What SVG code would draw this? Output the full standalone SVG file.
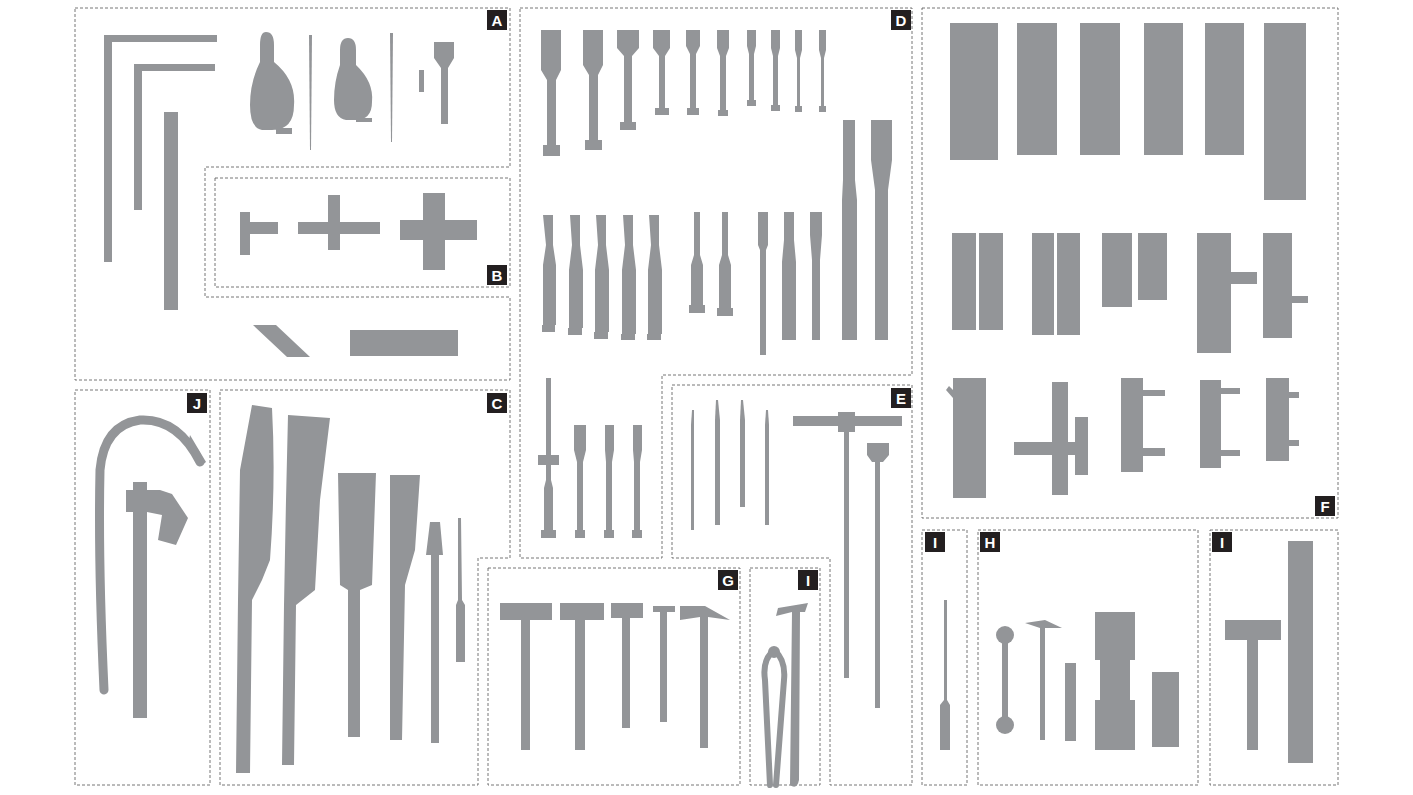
<svg xmlns="http://www.w3.org/2000/svg" width="1413" height="795" viewBox="0 0 1413 795">
<style>
.b{fill:none;stroke:#666;stroke-width:0.9;stroke-dasharray:3 2}
.t{fill:#939598}
.ts{fill:none;stroke:#939598;stroke-linecap:round}
.lb{fill:#231f20}
.lt{fill:#fff;font-family:"Liberation Sans",Arial,sans-serif;font-weight:bold;font-size:15px;text-anchor:middle}
</style>
<rect width="1413" height="795" fill="#fff"/>
<g id="boxes">
<path class="b" d="M75 8H510V167H205V297H510V380H75Z"/>
<rect class="b" x="215" y="178" width="295" height="109"/>
<path class="b" d="M520 8H912V375H662V558H520Z"/>
<path class="b" d="M672 385H912V785H830V558H672Z"/>
<rect class="b" x="75" y="390" width="135" height="395"/>
<path class="b" d="M220 390H510V558H478V785H220Z"/>
<rect class="b" x="488" y="568" width="252" height="217"/>
<rect class="b" x="750" y="568" width="70" height="217"/>
<rect class="b" x="922" y="8" width="416" height="510"/>
<rect class="b" x="922" y="530" width="45" height="255"/>
<rect class="b" x="978" y="530" width="220" height="255"/>
<rect class="b" x="1210" y="530" width="128" height="255"/>
</g>
<g id="labels">
<rect class="lb" x="487" y="10" width="20" height="20"/><text class="lt" x="497" y="26">A</text>
<rect class="lb" x="487" y="265" width="20" height="20"/><text class="lt" x="497" y="281">B</text>
<rect class="lb" x="891" y="10" width="20" height="20"/><text class="lt" x="901" y="26">D</text>
<rect class="lb" x="891" y="388" width="20" height="20"/><text class="lt" x="901" y="404">E</text>
<rect class="lb" x="187" y="393" width="20" height="20"/><text class="lt" x="197" y="409">J</text>
<rect class="lb" x="487" y="393" width="20" height="20"/><text class="lt" x="497" y="409">C</text>
<rect class="lb" x="718" y="570" width="20" height="20"/><text class="lt" x="728" y="586">G</text>
<rect class="lb" x="798" y="570" width="20" height="20"/><text class="lt" x="808" y="586">I</text>
<rect class="lb" x="1315" y="496" width="20" height="20"/><text class="lt" x="1325" y="512">F</text>
<rect class="lb" x="925" y="532" width="20" height="20"/><text class="lt" x="935" y="548">I</text>
<rect class="lb" x="980" y="532" width="20" height="20"/><text class="lt" x="990" y="548">H</text>
<rect class="lb" x="1212" y="532" width="20" height="20"/><text class="lt" x="1222" y="548">I</text>
</g>
<g id="A">
<path class="t" d="M104 35H217V42H112V262H104Z"/>
<path class="t" d="M134 64H215V71H142V210H134Z"/>
<rect class="t" x="164" y="112" width="14" height="198"/>
<path class="t" d="M266 32Q274 32 274 45V62Q296 80 294 105Q294 130 272 130H262Q250 128 250 105Q250 82 260 62V45Q260 32 266 32Z M276 128H292V134H276Z"/>
<path class="t" d="M348 38Q356 38 356 50V65Q374 82 372 102Q372 120 355 120H346Q334 118 334 100Q334 82 340 65V50Q340 38 348 38Z M356 118H372V122H356Z"/>
<path class="t" d="M309 35L312 35L311 150L310 150Z"/>
<path class="t" d="M390 33L393 33L392 142L391 142Z"/>
<path class="t" d="M434 42H454V58L448 68V124H441V68L434 58Z"/>
<rect class="t" x="419" y="70" width="5" height="22"/>
<path class="t" d="M253 325H276L310 357H287Z"/>
<rect class="t" x="350" y="330" width="108" height="26"/>
</g>
<g id="B">
<path class="t" d="M240 212H250V222H278V234H250V255H240Z"/>
<path class="t" d="M328 195H340V222H380V234H340V250H328V234H298V222H328Z"/>
<path class="t" d="M423 193H445V220H477V240H445V270H423V240H400V220H423Z"/>
</g>
<g id="D">
<path class="t" d="M541 30H561V70L556 80V145H560V156H543V145H547V80L541 70Z"/>
<path class="t" d="M583 30H603V65L598 75V140H602V150H585V140H589V75L583 65Z"/>
<path class="t" d="M617 30H639V48L632 56V122H636V130H620V122H624V56L617 48Z"/>
<path class="t" d="M653 30H670V48L665 56V108H669V115H655V108H659V56L653 48Z"/>
<path class="t" d="M686 30H700V46L696 54V108H699V115H687V108H690V54L686 46Z"/>
<path class="t" d="M717 30H729V48L726 56V110H728V116H718V110H720V56L717 48Z"/>
<path class="t" d="M747 30H756V46L754 54V100H756V106H747V100H749V54L747 46Z"/>
<path class="t" d="M771 30H780V48L778 56V105H780V111H771V105H773V56L771 48Z"/>
<path class="t" d="M795 30H802V50L800 58V106H802V112H795V106H797V58L795 50Z"/>
<path class="t" d="M819 30H826V50L824 58V106H826V112H819V106H821V58L819 50Z"/>
<path class="t" d="M543 215H553V245L556 265V325H555V332H542V325H543V265L546 245Z"/>
<path class="t" d="M570 215H580V245L583 270V328H582V335H568V328H569V270L572 245Z"/>
<path class="t" d="M596 215H606V245L609 270V332H608V339H594V332H595V270L598 245Z"/>
<path class="t" d="M623 215H633V245L636 270V334H635V340H621V334H622V270L625 245Z"/>
<path class="t" d="M649 215H659V245L662 270V334H661V340H647V334H648V270L651 245Z"/>
<path class="t" d="M694 212H700V255L703 265V305H705V313H689V305H691V265L694 255Z"/>
<path class="t" d="M722 212H728V255L731 265V308H733V316H717V308H719V265L722 255Z"/>
<path class="t" d="M758 212H768V245L766 250V355H760V250L758 245Z"/>
<path class="t" d="M784 212H794V240L796 262V340H782V262L784 240Z"/>
<path class="t" d="M810 212H822V235L820 260V340H812V260L810 235Z"/>
<path class="t" d="M843 120H855V180L857 200V340H842V200L843 180Z"/>
<path class="t" d="M871 120H892V160L888 190V340H875V190L871 160Z"/>
<path class="t" d="M546 378H551V455H559V465H551V480L553 488V530H556V538H541V530H544V488L546 480V465H538V455H546Z"/>
<path class="t" d="M574 425H586V450L583 462V530H585V538H575V530H577V462L574 450Z"/>
<path class="t" d="M605 425H614V450L612 462V530H614V538H604V530H606V462L605 450Z"/>
<path class="t" d="M633 425H642V450L640 462V530H642V538H632V530H634V462L633 450Z"/>
</g>
<g id="E">
<path class="t" d="M692 410L694 410V530H691V425Z"/>
<path class="t" d="M716 400L718 400L720 420V525H715V420Z"/>
<path class="t" d="M741 400L743 400L745 420V507H740V420Z"/>
<path class="t" d="M766 410L768 410L769 425V525H765V425Z"/>
<path class="t" d="M838 412H855V416H902V426H855V432H849V678H844V432H838V426H793V416H838Z"/>
<path class="t" d="M867 443H889V455L883 462H880V708H875V462H872L867 455Z"/>
</g>
<g id="J">
<path class="ts" stroke-width="9" d="M104 690Q98 560 100 470Q104 425 140 420Q178 418 200 462"/>
<path class="t" d="M190 435L206 462L202 465L188 445Z"/>
<path class="t" d="M133 482H147V490H160L172 494L188 518L176 545L158 540L162 515L147 512V718H133V512H126V490H133Z"/>
</g>
<g id="C">
<path class="t" d="M252 405L272 408Q276 480 270 560L262 580L252 600L250 773H236L238 600L240 470Z"/>
<path class="t" d="M288 415L330 418L320 500L315 590L296 605L294 765H282L284 605L286 500Z"/>
<path class="t" d="M338 473H376L372 585L360 590V737H348V590L340 585Z"/>
<path class="t" d="M390 475H420L415 550L405 585L402 740H390V585Z"/>
<path class="t" d="M430 522L440 522L443 555H439V743H431V555H426Z"/>
<path class="t" d="M458 518L461 518L462 600L465 605V662H456V605L458 600Z"/>
</g>
<g id="G">
<path class="t" d="M500 603H552V620H530V750H521V620H500Z"/>
<path class="t" d="M560 603H604V620H585V750H575V620H560Z"/>
<path class="t" d="M611 603H643V618H630V728H622V618H611Z"/>
<path class="t" d="M653 606H675V612H667V722H660V612H653Z"/>
<path class="t" d="M680 606L705 606L730 620L708 617V748H700V617L680 620Z"/>
</g>
<g id="Im">
<path class="t" d="M778 608L808 603L805 612L800 612L799 780Q797 790 790 785L792 612L776 616Z"/>
<path class="ts" stroke-width="6" fill="none" d="M774 650Q762 660 765 680L770 785"/>
<path class="ts" stroke-width="6" fill="none" d="M774 650Q786 660 784 680L776 785"/>
<circle class="t" cx="774" cy="652" r="6"/>
</g>
<g id="F">
<rect class="t" x="950" y="23" width="48" height="137"/>
<rect class="t" x="1017" y="23" width="40" height="132"/>
<rect class="t" x="1080" y="23" width="40" height="132"/>
<rect class="t" x="1144" y="23" width="39" height="132"/>
<rect class="t" x="1205" y="23" width="39" height="132"/>
<rect class="t" x="1264" y="23" width="42" height="177"/>
<rect class="t" x="952" y="233" width="24" height="97"/>
<rect class="t" x="979" y="233" width="24" height="97"/>
<rect class="t" x="1032" y="233" width="22" height="102"/>
<rect class="t" x="1057" y="233" width="23" height="102"/>
<rect class="t" x="1102" y="233" width="30" height="74"/>
<rect class="t" x="1138" y="233" width="29" height="67"/>
<path class="t" d="M1197 233H1231V272H1257V284H1231V353H1197Z"/>
<path class="t" d="M1263 233H1292V296H1308V303H1292V338H1263Z"/>
<path class="t" d="M953 378H986V498H953V398L946 390L949 386L953 390Z"/>
<rect class="t" x="1052" y="382" width="16" height="113"/>
<rect class="t" x="1014" y="442" width="74" height="13"/>
<rect class="t" x="1075" y="417" width="13" height="58"/>
<path class="t" d="M1121 378H1143V390H1165V396H1143V448H1165V456H1143V472H1121Z"/>
<path class="t" d="M1200 380H1221V388H1240V394H1221V450H1240V456H1221V468H1200Z"/>
<path class="t" d="M1266 378H1289V392H1299V398H1289V440H1299V446H1289V461H1266Z"/>
</g>
<g id="Il">
<path class="t" d="M944 600H947V700L950 705V750H940V705L944 700Z"/>
</g>
<g id="H">
<path class="ts" stroke-width="6" d="M1005 640V720"/>
<circle cx="1005" cy="635" r="9" class="t"/>
<circle cx="1005" cy="725" r="9" class="t"/>
<path class="t" d="M1025 623L1045 620L1062 628L1045 628V740H1040V628Z"/>
<rect class="t" x="1065" y="663" width="11" height="78"/>
<path class="t" d="M1095 612H1135V660H1130V700H1135V750H1095V700H1100V660H1095Z"/>
<rect class="t" x="1152" y="672" width="27" height="75"/>
</g>
<g id="Ir">
<path class="t" d="M1225 620H1281V640H1258V750H1247V640H1225Z"/>
<rect class="t" x="1288" y="541" width="25" height="222"/>
</g>
</svg>
